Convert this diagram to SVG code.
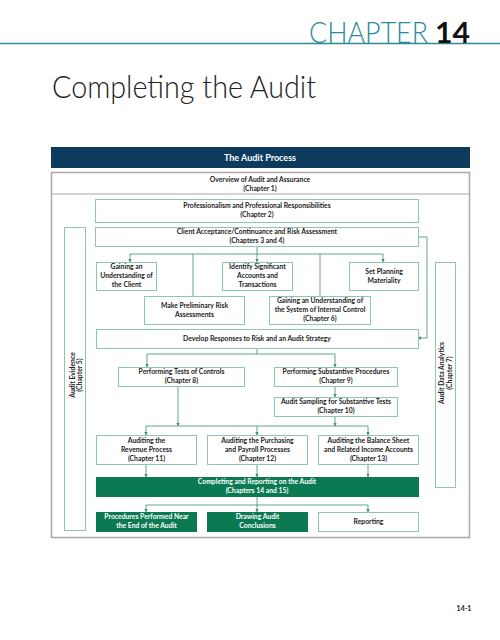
<svg xmlns="http://www.w3.org/2000/svg" width="500" height="640" viewBox="0 0 500 640">
<style>
.box{fill:#ffffff;stroke:#8cc7b2;stroke-width:1}
.gbox{fill:#0b7a52;stroke:#0b7a52;stroke-width:1}
.t{font-family:Lato,"Liberation Sans",sans-serif;font-weight:700;font-size:6.8px;fill:#222222;text-anchor:middle}
.tw{font-family:Lato,"Liberation Sans",sans-serif;font-weight:700;font-size:6.8px;fill:#ffffff;text-anchor:middle}
.c{fill:none;stroke:#3b8f74;stroke-width:0.8}
.a{fill:none;stroke:#3b8f74;stroke-width:0.8;marker-end:url(#ah)}
</style>
<defs>
<marker id="ah" viewBox="0 0 6 6" refX="5.5" refY="3" markerWidth="3.5" markerHeight="3.5" orient="auto" markerUnits="userSpaceOnUse">
<path d="M0,0 L6,3 L0,6 z" fill="#3b8f74"/>
</marker>
</defs>
<rect width="500" height="640" fill="#ffffff"/>
<!-- header -->
<line x1="0" y1="43.5" x2="500" y2="43.5" stroke="#2b8a99" stroke-width="1.5"/>
<text x="309" y="42.5" font-family="Lato,'Open Sans',sans-serif" font-weight="300" font-size="29" fill="#2b8a99" textLength="119" lengthAdjust="spacingAndGlyphs">CHAPTER</text>
<text x="435" y="42.5" font-family="Lato,'Open Sans',sans-serif" font-weight="700" font-size="29" fill="#111111" textLength="35" lengthAdjust="spacingAndGlyphs">14</text>
<text x="52" y="98" font-family="Lato,'Open Sans',sans-serif" font-weight="300" font-size="32" fill="#222222" textLength="264" lengthAdjust="spacingAndGlyphs">Completing the Audit</text>

<g id="title-bar">
<rect x="51" y="147" width="419" height="21" fill="#0c3b5e"/>
<text x="260" y="160.8" font-family="Lato,'Liberation Sans',sans-serif" font-weight="700" font-size="9" fill="#ffffff" text-anchor="middle">The Audit Process</text>
</g>
<g id="outer">
<rect x="51.5" y="172.5" width="418" height="365" fill="#ffffff" stroke="#a9a9a9" stroke-width="1.5"/>
<line x1="51.5" y1="194" x2="469.5" y2="194" stroke="#a9a9a9" stroke-width="1"/>
</g>
<g id="overview">
<text class="t" x="260" y="181.7">Overview of Audit and Assurance</text>
<text class="t" x="260" y="191.2">(Chapter 1)</text>
</g>

<g id="connectors">
<path class="c" d="M257,246 V254 M130,254 H383 M193,254 V296 M320,254 V296"/>
<path class="a" d="M130,254 V262"/>
<path class="a" d="M257,254 V262"/>
<path class="a" d="M383,254 V262"/>
<path class="a" d="M418,237 H427 V338 H418"/>
<path class="c" d="M257,348 V354 M147,354 H335"/>
<path class="a" d="M147,354 V367"/>
<path class="a" d="M335,354 V367"/>
<path class="a" d="M335,386 V397"/>
<path class="a" d="M178,386 V426"/>
<path class="a" d="M335,416 V426"/>
<path class="c" d="M146,426 H368"/>
<path class="a" d="M146,426 V435"/>
<path class="a" d="M257,426 V435"/>
<path class="a" d="M368,426 V435"/>
<path class="a" d="M146,464 V477"/>
<path class="a" d="M257,464 V477"/>
<path class="a" d="M368,464 V477"/>
<path class="c" d="M257,496 V505 M146,505 H368"/>
<path class="a" d="M146,505 V512"/>
<path class="a" d="M257,505 V512"/>
<path class="a" d="M368,505 V512"/>
</g>

<g id="professionalism">
<rect class="box" x="95.5" y="199.5" width="323" height="23"/>
<text class="t" x="257" y="208.4">Professionalism and Professional Responsibilities</text>
<text class="t" x="257" y="217.4">(Chapter 2)</text>
</g>
<g id="client-acceptance">
<rect class="box" x="95.5" y="227.5" width="323" height="19"/>
<text class="t" x="257" y="234.4">Client Acceptance/Continuance and Risk Assessment</text>
<text class="t" x="257" y="243.4">(Chapters 3 and 4)</text>
</g>
<g id="audit-evidence">
<rect class="box" x="64.5" y="227.5" width="21" height="303"/>
<text class="t" transform="translate(74.5,375) rotate(-90)">Audit Evidence</text>
<text class="t" transform="translate(82.2,375) rotate(-90)">(Chapter 5)</text>
</g>
<g id="audit-data-analytics">
<rect class="box" x="435.5" y="262.5" width="20" height="225"/>
<text class="t" transform="translate(444,373) rotate(-90)">Audit Data Analytics</text>
<text class="t" transform="translate(452,373) rotate(-90)">(Chapter 7)</text>
</g>
<g id="understanding-client">
<rect class="box" x="96.5" y="262.5" width="60" height="28"/>
<text class="t" x="126.5" y="269.4">Gaining an</text>
<text class="t" x="126.5" y="278.4">Understanding of</text>
<text class="t" x="126.5" y="287.4">the Client</text>
</g>
<g id="identify-accounts">
<rect class="box" x="222.5" y="262.5" width="70" height="28"/>
<text class="t" x="257.5" y="269.4">Identify Significant</text>
<text class="t" x="257.5" y="278.4">Accounts and</text>
<text class="t" x="257.5" y="287.4">Transactions</text>
</g>
<g id="materiality">
<rect class="box" x="349.5" y="262.5" width="69" height="28"/>
<text class="t" x="384" y="273.9">Set Planning</text>
<text class="t" x="384" y="282.9">Materiality</text>
</g>
<g id="preliminary-risk">
<rect class="box" x="144.5" y="296.5" width="100" height="28"/>
<text class="t" x="194.5" y="307.9">Make Preliminary Risk</text>
<text class="t" x="194.5" y="316.9">Assessments</text>
</g>
<g id="internal-control">
<rect class="box" x="269.5" y="296.5" width="101" height="28"/>
<text class="t" x="320" y="303.4">Gaining an Understanding of</text>
<text class="t" x="320" y="312.4">the System of Internal Control</text>
<text class="t" x="320" y="321.4">(Chapter 6)</text>
</g>
<g id="develop-responses">
<rect class="box" x="96.5" y="329.5" width="322" height="19"/>
<text class="t" x="257" y="341.4">Develop Responses to Risk and an Audit Strategy</text>
</g>
<g id="tests-of-controls">
<rect class="box" x="118.5" y="367.5" width="126" height="19"/>
<text class="t" x="181.5" y="374.4">Performing Tests of Controls</text>
<text class="t" x="181.5" y="383.4">(Chapter 8)</text>
</g>
<g id="substantive">
<rect class="box" x="274.5" y="367.5" width="123" height="19"/>
<text class="t" x="336" y="374.4">Performing Substantive Procedures</text>
<text class="t" x="336" y="383.4">(Chapter 9)</text>
</g>
<g id="sampling">
<rect class="box" x="274.5" y="397.5" width="123" height="19"/>
<text class="t" x="336" y="404.4">Audit Sampling for Substantive Tests</text>
<text class="t" x="336" y="413.4">(Chapter 10)</text>
</g>
<g id="revenue">
<rect class="box" x="96.5" y="435.5" width="100" height="29"/>
<text class="t" x="146.5" y="442.9">Auditing the</text>
<text class="t" x="146.5" y="451.9">Revenue Process</text>
<text class="t" x="146.5" y="460.9">(Chapter 11)</text>
</g>
<g id="purchasing">
<rect class="box" x="207.5" y="435.5" width="100" height="29"/>
<text class="t" x="257.5" y="442.9">Auditing the Purchasing</text>
<text class="t" x="257.5" y="451.9">and Payroll Processes</text>
<text class="t" x="257.5" y="460.9">(Chapter 12)</text>
</g>
<g id="balance-sheet">
<rect class="box" x="318.5" y="435.5" width="100" height="29"/>
<text class="t" x="368.5" y="442.9">Auditing the Balance Sheet</text>
<text class="t" x="368.5" y="451.9">and Related Income Accounts</text>
<text class="t" x="368.5" y="460.9">(Chapter 13)</text>
</g>
<g id="completing">
<rect class="gbox" x="96.5" y="477.5" width="322" height="19"/>
<text class="tw" x="257" y="484.4">Completing and Reporting on the Audit</text>
<text class="tw" x="257" y="493.4">(Chapters 14 and 15)</text>
</g>
<g id="procedures-near-end">
<rect class="gbox" x="96.5" y="512.5" width="100" height="19"/>
<text class="tw" x="146.5" y="519.4">Procedures Performed Near</text>
<text class="tw" x="146.5" y="528.4">the End of the Audit</text>
</g>
<g id="drawing-conclusions">
<rect class="gbox" x="207.5" y="512.5" width="100" height="19"/>
<text class="tw" x="257.5" y="519.4">Drawing Audit</text>
<text class="tw" x="257.5" y="528.4">Conclusions</text>
</g>
<g id="reporting">
<rect class="box" x="318.5" y="512.5" width="100" height="19"/>
<text class="t" x="368.5" y="523.9">Reporting</text>
</g>
<text x="464" y="610.5" font-family="Lato,'Liberation Sans',sans-serif" font-weight="700" font-size="7" fill="#222222" text-anchor="middle">14-1</text>
</svg>
